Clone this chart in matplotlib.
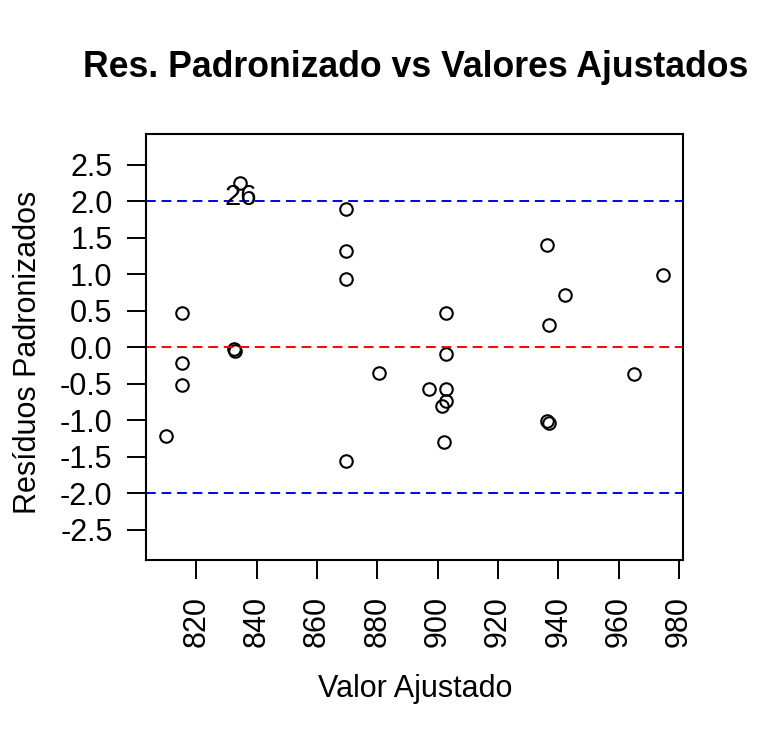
import matplotlib
matplotlib.use('Agg')
import matplotlib.pyplot as plt

# fitted values and standardized residuals
ajustado = [834.6, 869.8, 869.8, 869.8, 815.2, 832.4, 832.8, 815.2, 815.2,
            809.9, 869.8, 880.7, 936.3, 974.7, 942.3, 902.8, 936.9, 902.8,
            897.3, 902.8, 902.8, 901.5, 902.2, 936.3, 936.9, 965.0]
residuos = [2.25, 1.89, 1.32, 0.93, 0.47, -0.03, -0.055, -0.22, -0.52,
            -1.21, -1.56, -0.35, 1.40, 0.99, 0.71, 0.47, 0.30, -0.10,
            -0.57, -0.57, -0.74, -0.81, -1.30, -1.01, -1.04, -0.37]
rotulo = '26'
idx_rotulo = 0

xticks = [820, 840, 860, 880, 900, 920, 940, 960, 980]
yticks = [-2.5, -2.0, -1.5, -1.0, -0.5, 0.0, 0.5, 1.0, 1.5, 2.0, 2.5]

plt.rcParams['font.family'] = ['Liberation Sans', 'DejaVu Sans']

fig = plt.figure(figsize=(7.68, 7.41), dpi=100)
ax = fig.add_axes([0.190, 0.244, 0.699, 0.575])

ax.plot(ajustado, residuos, 'o', mfc='none', mec='black', ms=9, mew=1.5)
ax.axhline(0, color='red', ls=(0, (5, 3)), lw=1.4)
ax.axhline(2, color='blue', ls=(0, (5, 3)), lw=1.4)
ax.axhline(-2, color='blue', ls=(0, (5, 3)), lw=1.4)
ax.annotate(rotulo, (ajustado[idx_rotulo], residuos[idx_rotulo]),
            xytext=(0, -16), textcoords='offset points',
            ha='center', va='baseline', fontsize=21)

xr = max(ajustado) - min(ajustado)
ax.set_xlim(min(ajustado) - 0.04 * xr, max(ajustado) + 0.04 * xr)
ax.set_ylim(-2.7 * 1.08, 2.7 * 1.08)
ax.set_xticks(xticks)
ax.set_yticks(yticks)
ax.set_xticklabels([str(v) for v in xticks], rotation=90)
ax.set_yticklabels(['%.1f' % v for v in yticks])
ax.tick_params(length=14, width=1.4, labelsize=22, pad=10)
ax.tick_params(axis='x', pad=12)
for s in ax.spines.values():
    s.set_linewidth(1.5)

fig.text(0.541, 1 - 76.7 / 741, 'Res. Padronizado vs Valores Ajustados',
         ha='center', va='baseline', fontsize=25.7, fontweight='bold')
fig.text(0.541, 1 - 696.7 / 741, 'Valor Ajustado', ha='center',
         va='baseline', fontsize=22)
fig.text(0.037, 0.525, 'Resíduos Padronizados', ha='center', va='center',
         rotation=90, fontsize=22)

fig.savefig('out.png', dpi=100)
